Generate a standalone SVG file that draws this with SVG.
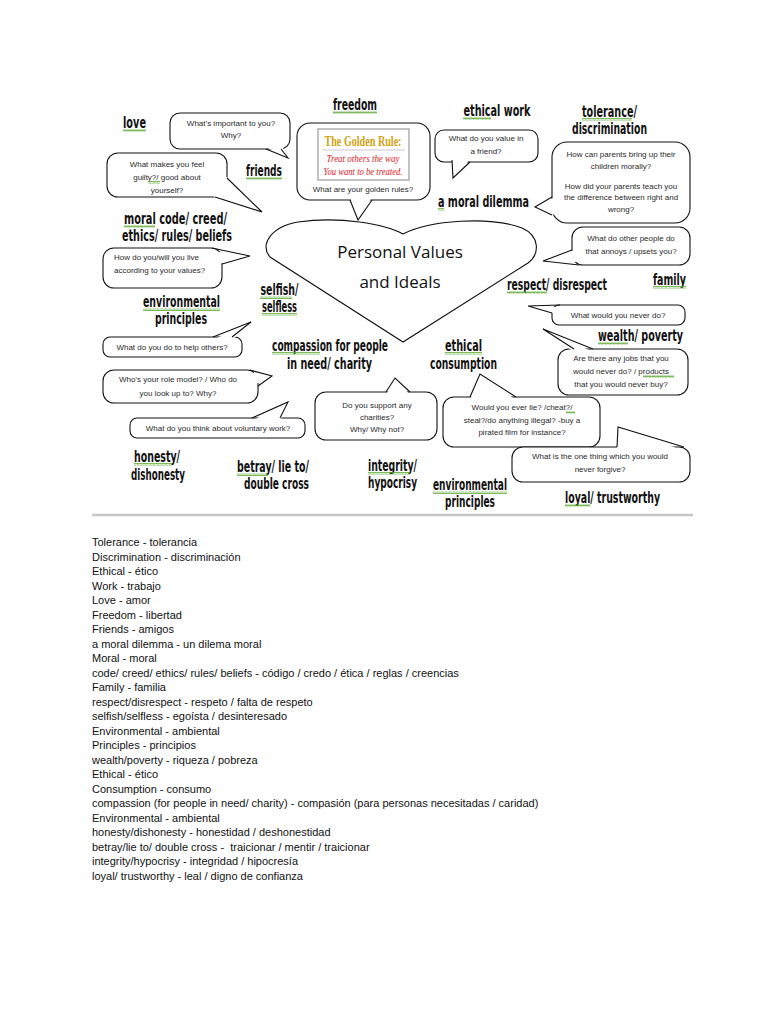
<svg xmlns="http://www.w3.org/2000/svg" width="768" height="1024" viewBox="0 0 768 1024">
<style>
.bg{fill:#fff}
.lbl{font-family:"DejaVu Sans","Liberation Sans",sans-serif;font-weight:bold;font-size:15.5px;fill:#111;text-anchor:middle}
.bt{font-family:"Liberation Sans","Open Sans",sans-serif;font-size:8px;fill:#2a2a2a;text-anchor:middle}
.btl{font-family:"Liberation Sans","Open Sans",sans-serif;font-size:8px;fill:#2a2a2a}
.bub{fill:#fff;stroke:#111;stroke-width:1.1}
.tf{fill:#fff;stroke:none}
.te{fill:none;stroke:#111;stroke-width:1.1;stroke-linejoin:miter}
.sq{fill:url(#squig)}
.ht{font-family:"Open Sans","Liberation Sans",sans-serif;font-size:17px;fill:#111;text-anchor:middle}
.list{font-family:"Liberation Sans",Arial,sans-serif;font-size:11px;fill:#111}
</style>
<defs>
<pattern id="squig" patternUnits="userSpaceOnUse" width="4" height="3">
<path d="M0 2.5 L1 0.5 L2 2.5 L3 0.5 L4 2.5" fill="none" stroke="#5aa832" stroke-width="0.8"/>
</pattern>
</defs>
<rect class="bg" x="0" y="0" width="768" height="1024"/>

<!-- heart -->
<g id="heart">
<path class="bub" d="M403 234 C385 224 340 216 298 222 C270 227 260 245 270 257 L403 342 L528 263 C540 254 540 236 522 228 C490 216 430 220 403 234 Z"/>
<text class="ht" x="400" y="258">Personal Values</text>
<text class="ht" x="400" y="288">and Ideals</text>
</g>

<!-- bubbles -->
<g id="b1">
<rect class="bub" x="170" y="113" width="120" height="36" rx="10"/>
<polygon class="tf" points="264,146 288,158 282,146"/>
<polyline class="te" points="266,149 288,158 281,149"/>
<text class="bt" x="231" y="126">What’s important to you?</text>
<text class="bt" x="231" y="138">Why?</text>
</g>
<g id="b2">
<rect class="bub" x="107" y="153" width="120" height="44" rx="11"/>
<polygon class="tf" points="227,177 262,212 214,197 214,177"/>
<polyline class="te" points="227,178 262,212 215,197"/>
<text class="bt" x="167" y="167">What makes you feel</text>
<text class="bt" x="167" y="180">guilty?/ good about</text>
<text class="bt" x="167" y="193">yourself?</text>
</g>
<g id="b3">
<rect class="bub" x="297" y="123" width="133" height="77" rx="13"/>
<polygon class="tf" points="350,197 358,220 372,197"/>
<polyline class="te" points="350,200 358,220 372,200"/>
<rect x="318" y="129" width="91" height="51" fill="#fff" stroke="#9a9a9a" stroke-width="1.2"/>
<line x1="322" y1="150" x2="405" y2="150" stroke="#bbb" stroke-width="0.8"/>
<text x="363" y="146" textLength="77" lengthAdjust="spacingAndGlyphs" style="font-family:'Liberation Serif',serif;font-weight:bold;font-size:14px;fill:#cfa314;text-anchor:middle">The Golden Rule:</text>
<text x="363" y="162" textLength="73" lengthAdjust="spacingAndGlyphs" style="font-family:'Liberation Serif',serif;font-style:italic;font-size:11px;fill:#e0201c;text-anchor:middle">Treat others the way</text>
<text x="363" y="175" textLength="79" lengthAdjust="spacingAndGlyphs" style="font-family:'Liberation Serif',serif;font-style:italic;font-size:11px;fill:#e0201c;text-anchor:middle">You want to be treated.</text>
<text class="bt" x="363" y="192">What are your golden rules?</text>
</g>
<g id="b4">
<rect class="bub" x="435" y="130" width="103" height="32" rx="9"/>
<polygon class="tf" points="452,158 453,178 470,159"/>
<polyline class="te" points="452,160 453,178 470,162"/>
<text class="bt" x="486" y="141">What do you value in</text>
<text class="bt" x="486" y="154">a friend?</text>
</g>
<g id="b5">
<rect class="bub" x="552" y="142" width="138" height="81" rx="15"/>
<polygon class="tf" points="555,197 535,207 555,215"/>
<polyline class="te" points="552,197 535,207 552,215"/>
<text class="bt" x="621" y="157">How can parents bring up their</text>
<text class="bt" x="621" y="169">children morally?</text>
<text class="bt" x="621" y="189">How did your parents teach you</text>
<text class="bt" x="621" y="200">the difference between right and</text>
<text class="bt" x="621" y="212">wrong?</text>
</g>
<g id="b6">
<rect class="bub" x="103" y="248" width="119" height="40" rx="11"/>
<polygon class="tf" points="210,251 250,256 219,264 210,264"/>
<polyline class="te" points="212,248 250,256 222,264"/>
<text class="btl" x="114" y="260">How do you/will you live</text>
<text class="btl" x="114" y="273">according to your values?</text>
</g>
<g id="b7">
<rect class="bub" x="572" y="227" width="118" height="38" rx="11"/>
<polygon class="tf" points="575,250 543,261 580,262"/>
<polyline class="te" points="572,250 543,261 579,265"/>
<text class="bt" x="631" y="241">What do other people do</text>
<text class="bt" x="631" y="254">that annoys / upsets you?</text>
</g>
<g id="b8">
<rect class="bub" x="103" y="337" width="139" height="20" rx="7"/>
<polygon class="tf" points="213,340 251,322 232,340"/>
<polyline class="te" points="213,337 251,322 232,337"/>
<text class="bt" x="172" y="350">What do you do to help others?</text>
</g>
<g id="b9">
<rect class="bub" x="552" y="305" width="133" height="20" rx="7"/>
<polygon class="tf" points="558,307 528,306 556,314"/>
<polyline class="te" points="560,305 528,306 552,313"/>
<text class="bt" x="618" y="318">What would you never do?</text>
</g>
<g id="b10">
<rect class="bub" x="558" y="349" width="130" height="46" rx="11"/>
<polygon class="tf" points="574,352 543,329 593,352"/>
<polyline class="te" points="574,349 543,329 593,349"/>
<text class="bt" x="621" y="361">Are there any jobs that you</text>
<text class="bt" x="621" y="374">would never do? / products</text>
<text class="bt" x="621" y="387">that you would never buy?</text>
</g>
<g id="b11">
<rect class="bub" x="103" y="370" width="155" height="33" rx="11"/>
<polygon class="tf" points="254,372 272,376 254,385"/>
<polyline class="te" points="250,370 272,376 258,386"/>
<text class="bt" x="178" y="382">Who’s your role model? / Who do</text>
<text class="bt" x="178" y="396">you look up to?  Why?</text>
</g>
<g id="b12">
<rect class="bub" x="130" y="418" width="175" height="20" rx="7"/>
<polygon class="tf" points="252,421 288,402 280,421"/>
<polyline class="te" points="252,418 288,402 280,418"/>
<text class="bt" x="218" y="431">What do you think about voluntary work?</text>
</g>
<g id="b13">
<rect class="bub" x="315" y="392" width="122" height="48" rx="11"/>
<polygon class="tf" points="386,395 395,378 410,395"/>
<polyline class="te" points="386,392 395,378 410,392"/>
<text class="bt" x="377" y="408">Do you support any</text>
<text class="bt" x="377" y="420">charities?</text>
<text class="bt" x="377" y="432">Why/ Why not?</text>
</g>
<g id="b14">
<rect class="bub" x="443" y="397" width="157" height="50" rx="11"/>
<polygon class="tf" points="470,400 480,374 516,400"/>
<polyline class="te" points="470,397 480,374 516,397"/>
<text class="bt" x="522" y="410">Would you ever lie? /cheat?/</text>
<text class="bt" x="522" y="423">steal?/do anything illegal? -buy a</text>
<text class="bt" x="522" y="435">pirated film for instance?</text>
</g>
<g id="b15">
<rect class="bub" x="512" y="447" width="178" height="35" rx="11"/>
<polygon class="tf" points="617,450 618,427 682,450"/>
<polyline class="te" points="617,447 618,427 684,447"/>
<text class="bt" x="600" y="459">What is the one thing which you would</text>
<text class="bt" x="600" y="472">never forgive?</text>
</g>

<!-- labels -->
<g id="labels">
<text class="lbl" x="134.5" y="128" textLength="23" lengthAdjust="spacingAndGlyphs">love</text>
<text class="lbl" x="355" y="110" textLength="44" lengthAdjust="spacingAndGlyphs">freedom</text>
<text class="lbl" x="497" y="116" textLength="67" lengthAdjust="spacingAndGlyphs">ethical work</text>
<text class="lbl" x="609.5" y="117" textLength="55" lengthAdjust="spacingAndGlyphs">tolerance/</text>
<text class="lbl" x="609.5" y="134" textLength="75" lengthAdjust="spacingAndGlyphs">discrimination</text>
<text class="lbl" x="264" y="176" textLength="36" lengthAdjust="spacingAndGlyphs">friends</text>
<text class="lbl" x="483.5" y="207" textLength="91" lengthAdjust="spacingAndGlyphs">a moral dilemma</text>
<text class="lbl" x="175.5" y="224" textLength="103" lengthAdjust="spacingAndGlyphs">moral code/ creed/</text>
<text class="lbl" x="177" y="241" textLength="110" lengthAdjust="spacingAndGlyphs">ethics/ rules/ beliefs</text>
<text class="lbl" x="669.5" y="285" textLength="33" lengthAdjust="spacingAndGlyphs">family</text>
<text class="lbl" x="557" y="290" textLength="100" lengthAdjust="spacingAndGlyphs">respect/ disrespect</text>
<text class="lbl" x="279.5" y="295" textLength="38" lengthAdjust="spacingAndGlyphs">selfish/</text>
<text class="lbl" x="279.5" y="312" textLength="35" lengthAdjust="spacingAndGlyphs">selfless</text>
<text class="lbl" x="181.5" y="307" textLength="77" lengthAdjust="spacingAndGlyphs">environmental</text>
<text class="lbl" x="181" y="324" textLength="52" lengthAdjust="spacingAndGlyphs">principles</text>
<text class="lbl" x="640.5" y="341" textLength="85" lengthAdjust="spacingAndGlyphs">wealth/ poverty</text>
<text class="lbl" x="330" y="351" textLength="116" lengthAdjust="spacingAndGlyphs">compassion for people</text>
<text class="lbl" x="329.5" y="369" textLength="85" lengthAdjust="spacingAndGlyphs">in need/ charity</text>
<text class="lbl" x="463.5" y="351" textLength="37" lengthAdjust="spacingAndGlyphs">ethical</text>
<text class="lbl" x="463.5" y="369" textLength="67" lengthAdjust="spacingAndGlyphs">consumption</text>
<text class="lbl" x="157" y="462" textLength="46" lengthAdjust="spacingAndGlyphs">honesty/</text>
<text class="lbl" x="158" y="480" textLength="54" lengthAdjust="spacingAndGlyphs">dishonesty</text>
<text class="lbl" x="273" y="472" textLength="72" lengthAdjust="spacingAndGlyphs">betray/ lie to/</text>
<text class="lbl" x="276.5" y="489" textLength="65" lengthAdjust="spacingAndGlyphs">double cross</text>
<text class="lbl" x="392.5" y="471" textLength="49" lengthAdjust="spacingAndGlyphs">integrity/</text>
<text class="lbl" x="392.5" y="488" textLength="49" lengthAdjust="spacingAndGlyphs">hypocrisy</text>
<text class="lbl" x="470" y="490" textLength="74" lengthAdjust="spacingAndGlyphs">environmental</text>
<text class="lbl" x="470" y="507" textLength="50" lengthAdjust="spacingAndGlyphs">principles</text>
<text class="lbl" x="612.5" y="503" textLength="95" lengthAdjust="spacingAndGlyphs">loyal/ trustworthy</text>
</g>

<!-- spell-check squiggles -->
<g id="squiggles">
<rect class="sq" x="123" y="129" width="23" height="3"/>
<rect class="sq" x="333" y="111" width="44" height="3"/>
<rect class="sq" x="463" y="117" width="28" height="3"/>
<rect class="sq" x="582" y="118" width="50" height="3"/>
<rect class="sq" x="246" y="177" width="36" height="3"/>
<rect class="sq" x="438" y="208" width="6" height="3"/>
<rect class="sq" x="124" y="225" width="31" height="3"/>
<rect class="sq" x="653" y="286" width="33" height="3"/>
<rect class="sq" x="507" y="291" width="40" height="3"/>
<rect class="sq" x="260" y="296" width="32" height="3"/>
<rect class="sq" x="262" y="313" width="35" height="3"/>
<rect class="sq" x="143" y="308" width="77" height="3"/>
<rect class="sq" x="598" y="342" width="30" height="3"/>
<rect class="sq" x="272" y="352" width="48" height="3"/>
<rect class="sq" x="445" y="352" width="37" height="3"/>
<rect class="sq" x="134" y="463" width="38" height="3"/>
<rect class="sq" x="237" y="473" width="31" height="3"/>
<rect class="sq" x="368" y="472" width="42" height="3"/>
<rect class="sq" x="433" y="491" width="74" height="3"/>
<rect class="sq" x="565" y="504" width="25" height="3"/>
<rect class="sq" x="148" y="181" width="12" height="3"/>
<rect class="sq" x="643" y="375" width="31" height="3"/>
<rect class="sq" x="566" y="411" width="9" height="3"/>
</g>

<line x1="92" y1="515" x2="693" y2="515" stroke="#c8c8c8" stroke-width="2.5"/>

<g id="glossary">
<text class="list" x="92" y="546">Tolerance - tolerancia</text>
<text class="list" x="92" y="560.5">Discrimination - discriminación</text>
<text class="list" x="92" y="575">Ethical - ético</text>
<text class="list" x="92" y="589.5">Work - trabajo</text>
<text class="list" x="92" y="604">Love - amor</text>
<text class="list" x="92" y="618.5">Freedom - libertad</text>
<text class="list" x="92" y="633">Friends - amigos</text>
<text class="list" x="92" y="647.5">a moral dilemma - un dilema moral</text>
<text class="list" x="92" y="662">Moral - moral</text>
<text class="list" x="92" y="676.5">code/ creed/ ethics/ rules/ beliefs - código / credo / ética / reglas / creencias</text>
<text class="list" x="92" y="691">Family - familia</text>
<text class="list" x="92" y="705.5">respect/disrespect - respeto / falta de respeto</text>
<text class="list" x="92" y="720">selfish/selfless - egoísta / desinteresado</text>
<text class="list" x="92" y="734.5">Environmental - ambiental</text>
<text class="list" x="92" y="749">Principles - principios</text>
<text class="list" x="92" y="763.5">wealth/poverty - riqueza / pobreza</text>
<text class="list" x="92" y="778">Ethical - ético</text>
<text class="list" x="92" y="792.5">Consumption - consumo</text>
<text class="list" x="92" y="807">compassion (for people in need/ charity) - compasión (para personas necesitadas / caridad)</text>
<text class="list" x="92" y="821.5">Environmental - ambiental</text>
<text class="list" x="92" y="836">honesty/dishonesty - honestidad / deshonestidad</text>
<text class="list" x="92" y="850.5" xml:space="preserve">betray/lie to/ double cross -  traicionar / mentir / traicionar</text>
<text class="list" x="92" y="865">integrity/hypocrisy - integridad / hipocresía</text>
<text class="list" x="92" y="879.5">loyal/ trustworthy - leal / digno de confianza</text>
</g>
</svg>
